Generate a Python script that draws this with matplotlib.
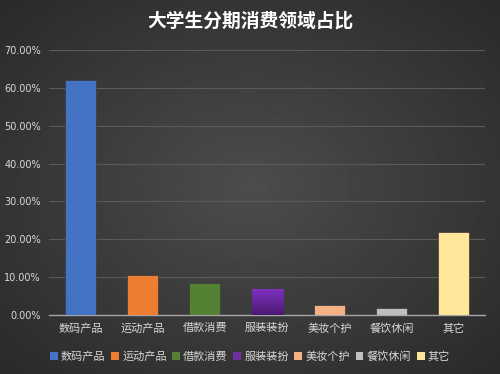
import numpy as np
import matplotlib
matplotlib.use("Agg")
import matplotlib.pyplot as plt
from matplotlib.ticker import PercentFormatter
from matplotlib.patches import Patch
from matplotlib.colors import LinearSegmentedColormap

plt.rcParams['font.family'] = ['Noto Sans CJK SC', 'DejaVu Sans']

# data
categories = ["数码产品", "运动产品", "借款消费", "服装装扮", "美妆个护", "餐饮休闲", "其它"]
shares = [62.2, 10.6, 8.4, 6.9, 2.6, 1.8, 21.9]
colors = ["#4472C4", "#ED7D31", "#548235", "#7030A0", "#F4B183", "#BFBFBF", "#FFE699"]
y_ticks = [0, 10, 20, 30, 40, 50, 60, 70]

fig = plt.figure(figsize=(5, 3.74), dpi=100)

# radial dark background
bg = fig.add_axes([0, 0, 1, 1], zorder=-10)
yy, xx = np.mgrid[-1:1:200j, -1:1:260j]
r = np.sqrt(xx ** 2 + yy ** 2)
shade = 0.30 - 0.13 * np.clip(r / 1.35, 0, 1)
bg.imshow(shade, cmap="gray", vmin=0, vmax=1, aspect="auto", extent=[0, 1, 0, 1])
bg.axis("off")

ax = fig.add_axes([0.0986, 0.158, 0.8714, 0.708])
ax.patch.set_alpha(0)

x = np.arange(len(categories))
bars = ax.bar(x, shares, width=0.5, color=colors, edgecolor="#3a3a3a", linewidth=0.5, zorder=3)

# purple bar fades darker to the bottom
pb = bars[3]
grad = np.linspace(1, 0, 100).reshape(-1, 1)
pcmap = LinearSegmentedColormap.from_list("p", ["#4A1870", "#8232C2"])
im = ax.imshow(grad, cmap=pcmap, aspect="auto", zorder=3.5,
               extent=[pb.get_x(), pb.get_x() + pb.get_width(), 0, pb.get_height()])
im.set_clip_path(pb)

ax.set_xlim(-0.5, len(categories) - 0.5)
ax.set_ylim(0, 70)
ax.set_yticks(y_ticks)
ax.yaxis.set_major_formatter(PercentFormatter(decimals=2))
ax.set_xticks(x)
ax.set_xticklabels(categories)
ax.grid(axis="y", color="#5a5a5a", linewidth=0.8, zorder=0)
for s in ["top", "right", "left"]:
    ax.spines[s].set_visible(False)
ax.spines["bottom"].set_color("#A6A6A6")
ax.spines["bottom"].set_linewidth(1.0)
ax.tick_params(axis="both", length=0, colors="#D9D9D9", labelsize=8)
ax.tick_params(axis="x", pad=6)
ax.tick_params(axis="y", pad=6)
for lbl in ax.get_yticklabels():
    lbl.set_family("DejaVu Sans")
    lbl.set_fontsize(7)

fig.text(0.5, 0.944, "大学生分期消费领域占比", ha="center", va="center",
         color="white", fontsize=13.5, fontweight="bold")

handles = [Patch(facecolor=c, edgecolor="none") for c in colors]
fig.legend(handles, categories, loc="center", bbox_to_anchor=(0.5, 0.046), ncol=7,
           frameon=False, fontsize=8, labelcolor="#D9D9D9", handlelength=0.7,
           handleheight=0.7, handletextpad=0.3, columnspacing=0.5)

fig.savefig("out.png", dpi=100)
